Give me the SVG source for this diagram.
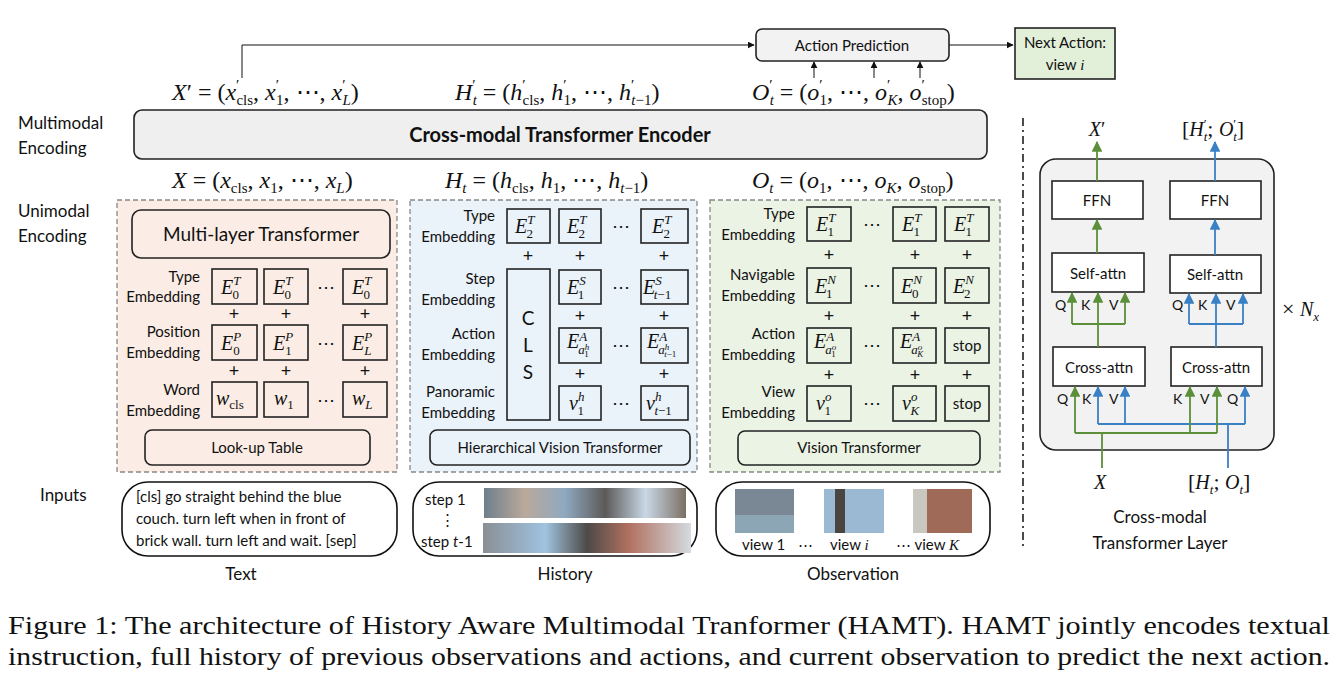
<svg xmlns="http://www.w3.org/2000/svg" width="1342" height="688" viewBox="0 0 1342 688">
<defs>
<marker id="ak" viewBox="0 0 10 10" refX="9" refY="5" markerWidth="7" markerHeight="7" orient="auto"><path d="M0,0L10,5L0,10z" fill="#111"/></marker>
<marker id="ag" viewBox="0 0 10 10" refX="9" refY="5" markerWidth="6" markerHeight="6" orient="auto"><path d="M0,0L10,5L0,10z" fill="#5b8f3a"/></marker>
<marker id="ab" viewBox="0 0 10 10" refX="9" refY="5" markerWidth="6" markerHeight="6" orient="auto"><path d="M0,0L10,5L0,10z" fill="#3a80c4"/></marker>
<linearGradient id="ph" x1="0" x2="1"><stop offset="0" stop-color="#6e7f8c"/><stop offset="0.2" stop-color="#b9a99a"/><stop offset="0.4" stop-color="#8fa9c0"/><stop offset="0.6" stop-color="#5c5a58"/><stop offset="0.8" stop-color="#c9d8e6"/><stop offset="1" stop-color="#7b6f64"/></linearGradient>
<linearGradient id="ph2" x1="0" x2="1"><stop offset="0" stop-color="#8a8f95"/><stop offset="0.3" stop-color="#9fc3e0"/><stop offset="0.5" stop-color="#4d4a47"/><stop offset="0.7" stop-color="#b07060"/><stop offset="1" stop-color="#d5dbe0"/></linearGradient>
</defs>
<style>
text{font-family:Lato,"Open Sans","Liberation Sans",sans-serif;fill:#111}
.l{font-size:15px}
.lr{font-size:15px;text-anchor:end}
.c{text-anchor:middle}
.m{font-family:"Liberation Serif",serif;font-style:italic;font-size:20px}
.mn{font-family:"Liberation Serif",serif;font-size:22px}
.f .mn{font-size:24px}
.f .m{font-size:24px}
.s{font-size:13px}
.f .s{font-size:15px}
.t{font-size:9px}
.b{fill:none;stroke:#222;stroke-width:1.6}
.rb{stroke:#222;stroke-width:1.6}
.pl{font-size:18px;text-anchor:middle}
.g{stroke:#5b8f3a;stroke-width:1.8;fill:none}
.bl{stroke:#3a80c4;stroke-width:1.8;fill:none}
.cap{font-family:"Liberation Serif",serif;font-size:26px}
</style>
<rect width="1342" height="688" fill="#fff"/>

<g id="connectors">
<path d="M242,78V45H754" stroke="#111" stroke-width="1" fill="none" marker-end="url(#ak)"/>
<path d="M949,45H1013" stroke="#111" stroke-width="1" fill="none" marker-end="url(#ak)"/>
<path d="M814,78V62" stroke="#111" stroke-width="1" marker-end="url(#ak)"/>
<path d="M874,78V62" stroke="#111" stroke-width="1" marker-end="url(#ak)"/>
<path d="M920,78V62" stroke="#111" stroke-width="1" marker-end="url(#ak)"/>
</g>

<g id="action-prediction"><rect x="756" y="29" width="193" height="32" rx="6" fill="#f2f2f2" class="rb"/><text class="l c" x="852" y="51">Action Prediction</text></g>
<g id="next-action"><rect x="1015" y="28" width="100" height="51" fill="#e2efd9" class="rb"/><text class="l c" x="1065" y="48">Next Action:</text><text class="l c" x="1065" y="70">view <tspan font-style="italic" font-family="Liberation Serif">i</tspan></text></g>

<g id="formulas" class="f">
<text class="mn" x="172" y="100"><tspan class="m">X</tspan>′ = (<tspan class="m">x</tspan><tspan class="s" dy="-10">′</tspan><tspan class="s" dx="-3" dy="15">cls</tspan><tspan dy="-5">, </tspan><tspan class="m">x</tspan><tspan class="s" dy="-10">′</tspan><tspan class="s" dx="-3" dy="15">1</tspan><tspan dy="-5">, ⋯, </tspan><tspan class="m">x</tspan><tspan class="s" dy="-10">′</tspan><tspan class="s" font-style="italic" dx="-3" dy="15">L</tspan><tspan dy="-5">)</tspan></text>
<text class="mn" x="455" y="100"><tspan class="m">H</tspan><tspan class="s" dy="-10">′</tspan><tspan class="s" font-style="italic" dx="-3" dy="15">t</tspan><tspan dy="-5"> = (</tspan><tspan class="m">h</tspan><tspan class="s" dy="-10">′</tspan><tspan class="s" dx="-3" dy="15">cls</tspan><tspan dy="-5">, </tspan><tspan class="m">h</tspan><tspan class="s" dy="-10">′</tspan><tspan class="s" dx="-3" dy="15">1</tspan><tspan dy="-5">, ⋯, </tspan><tspan class="m">h</tspan><tspan class="s" dy="-10">′</tspan><tspan class="s" dx="-3" dy="15"><tspan font-style="italic">t</tspan>−1</tspan><tspan dy="-5">)</tspan></text>
<text class="mn" x="752" y="100"><tspan class="m">O</tspan><tspan class="s" dy="-10">′</tspan><tspan class="s" font-style="italic" dx="-3" dy="15">t</tspan><tspan dy="-5"> = (</tspan><tspan class="m">o</tspan><tspan class="s" dy="-10">′</tspan><tspan class="s" dx="-3" dy="15">1</tspan><tspan dy="-5">, ⋯, </tspan><tspan class="m">o</tspan><tspan class="s" dy="-10">′</tspan><tspan class="s" font-style="italic" dx="-3" dy="15">K</tspan><tspan dy="-5">, </tspan><tspan class="m">o</tspan><tspan class="s" dy="-10">′</tspan><tspan class="s" dx="-3" dy="15">stop</tspan><tspan dy="-5">)</tspan></text>
<text class="mn" x="172" y="188"><tspan class="m">X</tspan> = (<tspan class="m">x</tspan><tspan class="s" dy="5">cls</tspan><tspan dy="-5">, </tspan><tspan class="m">x</tspan><tspan class="s" dy="5">1</tspan><tspan dy="-5">, ⋯, </tspan><tspan class="m">x</tspan><tspan class="s" font-style="italic" dy="5">L</tspan><tspan dy="-5">)</tspan></text>
<text class="mn" x="445" y="188"><tspan class="m">H</tspan><tspan class="s" font-style="italic" dy="5">t</tspan><tspan dy="-5"> = (</tspan><tspan class="m">h</tspan><tspan class="s" dy="5">cls</tspan><tspan dy="-5">, </tspan><tspan class="m">h</tspan><tspan class="s" dy="5">1</tspan><tspan dy="-5">, ⋯, </tspan><tspan class="m">h</tspan><tspan class="s" dy="5"><tspan font-style="italic">t</tspan>−1</tspan><tspan dy="-5">)</tspan></text>
<text class="mn" x="752" y="188"><tspan class="m">O</tspan><tspan class="s" font-style="italic" dy="5">t</tspan><tspan dy="-5"> = (</tspan><tspan class="m">o</tspan><tspan class="s" dy="5">1</tspan><tspan dy="-5">, ⋯, </tspan><tspan class="m">o</tspan><tspan class="s" font-style="italic" dy="5">K</tspan><tspan dy="-5">, </tspan><tspan class="m">o</tspan><tspan class="s" dy="5">stop</tspan><tspan dy="-5">)</tspan></text>
</g>

<g id="side-labels">
<text x="18" y="129" font-size="17">Multimodal</text><text x="18" y="154" font-size="17">Encoding</text>
<text x="18" y="217" font-size="17">Unimodal</text><text x="18" y="242" font-size="17">Encoding</text>
<text x="40" y="501" font-size="17">Inputs</text>
</g>

<g id="encoder"><rect x="134" y="110" width="853" height="49" rx="8" fill="#efefef" class="rb"/><text class="c" x="560" y="142" font-size="20" font-weight="bold">Cross-modal Transformer Encoder</text></g>

<g id="text-panel">
<rect x="117" y="200" width="280" height="272" fill="#fbede5" stroke="#888" stroke-width="1.3" stroke-dasharray="5,3"/>
<rect x="132" y="210" width="258" height="48" rx="9" fill="#fbede5" class="rb"/><text class="c" x="261" y="241" font-size="19">Multi-layer Transformer</text>
<text class="lr" x="200" y="282">Type</text><text class="lr" x="200" y="302">Embedding</text>
<text class="lr" x="200" y="337">Position</text><text class="lr" x="200" y="358">Embedding</text>
<text class="lr" x="200" y="395">Word</text><text class="lr" x="200" y="416">Embedding</text>
<rect class="b" x="212" y="269" width="45" height="35"/><rect class="b" x="264" y="269" width="44" height="35"/><rect class="b" x="343" y="269" width="44" height="35"/>
<rect class="b" x="212" y="325" width="45" height="35"/><rect class="b" x="264" y="325" width="44" height="35"/><rect class="b" x="343" y="325" width="44" height="35"/>
<rect class="b" x="212" y="382" width="45" height="35"/><rect class="b" x="264" y="382" width="44" height="35"/><rect class="b" x="343" y="382" width="44" height="35"/>
<text class="m" x="221" y="294">E<tspan class="s" dy="-9">T</tspan><tspan class="s" font-style="normal" dx="-8" dy="14">0</tspan></text>
<text class="m" x="273" y="294">E<tspan class="s" dy="-9">T</tspan><tspan class="s" font-style="normal" dx="-8" dy="14">0</tspan></text>
<text class="m" x="352" y="294">E<tspan class="s" dy="-9">T</tspan><tspan class="s" font-style="normal" dx="-8" dy="14">0</tspan></text>
<text class="m" x="221" y="350">E<tspan class="s" dy="-9">P</tspan><tspan class="s" font-style="normal" dx="-8" dy="14">0</tspan></text>
<text class="m" x="273" y="350">E<tspan class="s" dy="-9">P</tspan><tspan class="s" font-style="normal" dx="-8" dy="14">1</tspan></text>
<text class="m" x="352" y="350">E<tspan class="s" dy="-9">P</tspan><tspan class="s" dx="-8" dy="14">L</tspan></text>
<text class="m" x="216" y="405">w<tspan class="s" font-style="normal" dy="4">cls</tspan></text>
<text class="m" x="274" y="405">w<tspan class="s" font-style="normal" dy="4">1</tspan></text>
<text class="m" x="352" y="405">w<tspan class="s" dy="4">L</tspan></text>
<text class="pl" x="234" y="320">+</text><text class="pl" x="286" y="320">+</text><text class="pl" x="365" y="320">+</text>
<text class="pl" x="234" y="377">+</text><text class="pl" x="286" y="377">+</text><text class="pl" x="365" y="377">+</text>
<text class="pl" x="326" y="293">⋯</text><text class="pl" x="326" y="349">⋯</text><text class="pl" x="326" y="406">⋯</text>
<rect x="145" y="430" width="225" height="35" rx="7" fill="#fbede5" class="rb"/><text class="l c" x="257" y="453">Look-up Table</text>
</g>

<g id="history-panel">
<rect x="410" y="200" width="287" height="272" fill="#eaf2fa" stroke="#888" stroke-width="1.3" stroke-dasharray="5,3"/>
<text class="lr" x="495" y="221">Type</text><text class="lr" x="495" y="242">Embedding</text>
<text class="lr" x="495" y="284">Step</text><text class="lr" x="495" y="305">Embedding</text>
<text class="lr" x="495" y="339">Action</text><text class="lr" x="495" y="360">Embedding</text>
<text class="lr" x="495" y="397">Panoramic</text><text class="lr" x="495" y="418">Embedding</text>
<rect class="b" x="507" y="209" width="43" height="34"/><rect class="b" x="559" y="209" width="42" height="34"/><rect class="b" x="641" y="209" width="47" height="34"/>
<rect class="b" x="507" y="269" width="43" height="151"/>
<text class="c" x="528" y="325" font-size="19">C</text><text class="c" x="528" y="352" font-size="19">L</text><text class="c" x="528" y="379" font-size="19">S</text>
<rect class="b" x="559" y="270" width="42" height="34"/><rect class="b" x="641" y="270" width="47" height="34"/>
<rect class="b" x="559" y="328" width="42" height="35"/><rect class="b" x="641" y="328" width="47" height="35"/>
<rect class="b" x="559" y="386" width="42" height="34"/><rect class="b" x="641" y="386" width="47" height="34"/>
<text class="m" x="515" y="233">E<tspan class="s" dy="-9">T</tspan><tspan class="s" font-style="normal" dx="-8" dy="14">2</tspan></text>
<text class="m" x="567" y="233">E<tspan class="s" dy="-9">T</tspan><tspan class="s" font-style="normal" dx="-8" dy="14">2</tspan></text>
<text class="m" x="652" y="233">E<tspan class="s" dy="-9">T</tspan><tspan class="s" font-style="normal" dx="-8" dy="14">2</tspan></text>
<text class="m" x="567" y="294">E<tspan class="s" dy="-9">S</tspan><tspan class="s" font-style="normal" dx="-8" dy="14">1</tspan></text>
<text class="m" x="643" y="294">E<tspan class="s" dy="-9">S</tspan><tspan class="s" dx="-8" dy="14">t</tspan><tspan class="s" font-style="normal">−1</tspan></text>
<text class="m" x="567" y="348">E<tspan class="s" dy="-7">A</tspan><tspan class="s" dx="-9" dy="13">a</tspan><tspan class="t" dy="-4">h</tspan><tspan class="t" font-style="normal" dx="-5" dy="7">1</tspan></text>
<text class="m" x="647" y="348">E<tspan class="s" dy="-7">A</tspan><tspan class="s" dx="-9" dy="13">a</tspan><tspan class="t" dy="-4">h</tspan><tspan class="t" dx="-5" dy="7">t</tspan><tspan class="t" font-style="normal">−1</tspan></text>
<text class="m" x="569" y="410">v<tspan class="s" dy="-9">h</tspan><tspan class="s" font-style="normal" dx="-7" dy="14">1</tspan></text>
<text class="m" x="646" y="410">v<tspan class="s" dy="-9">h</tspan><tspan class="s" dx="-7" dy="14">t</tspan><tspan class="s" font-style="normal">−1</tspan></text>
<text class="pl" x="528" y="262">+</text><text class="pl" x="580" y="262">+</text><text class="pl" x="664" y="262">+</text>
<text class="pl" x="580" y="322">+</text><text class="pl" x="664" y="322">+</text>
<text class="pl" x="580" y="380">+</text><text class="pl" x="664" y="380">+</text>
<text class="pl" x="621" y="232">⋯</text><text class="pl" x="621" y="293">⋯</text><text class="pl" x="621" y="351">⋯</text><text class="pl" x="621" y="409">⋯</text>
<rect x="430" y="430" width="260" height="35" rx="7" fill="#eaf2fa" class="rb"/><text class="l c" x="560" y="453">Hierarchical Vision Transformer</text>
</g>

<g id="observation-panel">
<rect x="710" y="200" width="290" height="272" fill="#ebf3e5" stroke="#888" stroke-width="1.3" stroke-dasharray="5,3"/>
<text class="lr" x="795" y="219">Type</text><text class="lr" x="795" y="240">Embedding</text>
<text class="lr" x="795" y="280">Navigable</text><text class="lr" x="795" y="301">Embedding</text>
<text class="lr" x="795" y="339">Action</text><text class="lr" x="795" y="360">Embedding</text>
<text class="lr" x="795" y="397">View</text><text class="lr" x="795" y="418">Embedding</text>
<rect class="b" x="807" y="207" width="44" height="34"/><rect class="b" x="893" y="207" width="43" height="34"/><rect class="b" x="945" y="207" width="44" height="34"/>
<rect class="b" x="807" y="268" width="44" height="35"/><rect class="b" x="893" y="268" width="43" height="35"/><rect class="b" x="945" y="268" width="44" height="35"/>
<rect class="b" x="807" y="328" width="44" height="35"/><rect class="b" x="893" y="328" width="43" height="35"/><rect class="b" x="945" y="328" width="44" height="35"/>
<rect class="b" x="807" y="386" width="44" height="35"/><rect class="b" x="893" y="386" width="43" height="35"/><rect class="b" x="945" y="386" width="44" height="35"/>
<text class="m" x="816" y="231">E<tspan class="s" dy="-9">T</tspan><tspan class="s" font-style="normal" dx="-8" dy="14">1</tspan></text>
<text class="m" x="902" y="231">E<tspan class="s" dy="-9">T</tspan><tspan class="s" font-style="normal" dx="-8" dy="14">1</tspan></text>
<text class="m" x="954" y="231">E<tspan class="s" dy="-9">T</tspan><tspan class="s" font-style="normal" dx="-8" dy="14">1</tspan></text>
<text class="m" x="815" y="293">E<tspan class="s" dy="-9">N</tspan><tspan class="s" font-style="normal" dx="-10" dy="14">1</tspan></text>
<text class="m" x="901" y="293">E<tspan class="s" dy="-9">N</tspan><tspan class="s" font-style="normal" dx="-10" dy="14">0</tspan></text>
<text class="m" x="953" y="293">E<tspan class="s" dy="-9">N</tspan><tspan class="s" font-style="normal" dx="-10" dy="14">2</tspan></text>
<text class="m" x="814" y="348">E<tspan class="s" dy="-7">A</tspan><tspan class="s" dx="-9" dy="13">a</tspan><tspan class="t" dy="-4">o</tspan><tspan class="t" font-style="normal" dx="-5" dy="7">1</tspan></text>
<text class="m" x="900" y="348">E<tspan class="s" dy="-7">A</tspan><tspan class="s" dx="-9" dy="13">a</tspan><tspan class="t" dy="-4">o</tspan><tspan class="t" dx="-5" dy="7">K</tspan></text>
<text class="l c" x="967" y="351" font-size="16">stop</text>
<text class="m" x="816" y="410">v<tspan class="s" dy="-9">o</tspan><tspan class="s" font-style="normal" dx="-7" dy="14">1</tspan></text>
<text class="m" x="902" y="410">v<tspan class="s" dy="-9">o</tspan><tspan class="s" dx="-7" dy="14">K</tspan></text>
<text class="l c" x="967" y="409" font-size="16">stop</text>
<text class="pl" x="829" y="261">+</text><text class="pl" x="915" y="261">+</text><text class="pl" x="967" y="261">+</text>
<text class="pl" x="829" y="322">+</text><text class="pl" x="915" y="322">+</text><text class="pl" x="967" y="322">+</text>
<text class="pl" x="829" y="381">+</text><text class="pl" x="915" y="381">+</text><text class="pl" x="967" y="381">+</text>
<text class="pl" x="872" y="230">⋯</text><text class="pl" x="872" y="291">⋯</text><text class="pl" x="872" y="351">⋯</text><text class="pl" x="872" y="409">⋯</text>
<rect x="738" y="431" width="242" height="34" rx="7" fill="#ebf3e5" class="rb"/><text class="l c" x="859" y="453">Vision Transformer</text>
</g>

<g id="input-text">
<rect x="122" y="482" width="275" height="74" rx="26" fill="#fff" stroke="#111" stroke-width="1.6"/>
<text class="l" x="136" y="502" font-size="15.5">[cls] go straight behind the blue</text>
<text class="l" x="136" y="524" font-size="15.5">couch. turn left when in front of</text>
<text class="l" x="136" y="546" font-size="15.5">brick wall. turn left and wait. [sep]</text>
<text class="c" x="241" y="580" font-size="17">Text</text>
</g>
<g id="input-history">
<rect x="413" y="482" width="284" height="74" rx="26" fill="#fff" stroke="#111" stroke-width="1.6"/>
<text class="l" x="425" y="505">step 1</text>
<text class="l c" x="447" y="525">⋮</text>
<text class="l" x="421" y="547">step <tspan font-style="italic">t</tspan>-1</text>
<rect x="484" y="488" width="202" height="30" fill="url(#ph)"/>
<rect x="483" y="523" width="208" height="30" fill="url(#ph2)"/>
<text class="c" x="565" y="580" font-size="17">History</text>
</g>
<g id="input-observation">
<rect x="716" y="482" width="274" height="74" rx="26" fill="#fff" stroke="#111" stroke-width="1.6"/>
<rect x="735" y="489" width="59" height="44" fill="#7a8794"/><rect x="735" y="515" width="59" height="18" fill="#8ca6b5"/>
<rect x="824" y="489" width="60" height="44" fill="#9cb9d4"/><rect x="835" y="489" width="10" height="44" fill="#4a4540"/>
<rect x="913" y="489" width="59" height="44" fill="#a06a58"/><rect x="913" y="489" width="14" height="44" fill="#c8c8c0"/>
<text class="l" x="742" y="550" font-size="16">view 1</text><text class="l" x="798" y="550">⋯</text>
<text class="l" x="830" y="550" font-size="16">view <tspan font-family="Liberation Serif" font-style="italic">i</tspan></text>
<text class="l" x="896" y="550" font-size="16">⋯ view <tspan font-family="Liberation Serif" font-style="italic">K</tspan></text>
<text class="c" x="853" y="580" font-size="17">Observation</text>
</g>

<line x1="1023" y1="118" x2="1023" y2="548" stroke="#111" stroke-width="1.5" stroke-dasharray="8,4,2,4"/>
<g id="layer">
<rect x="1040" y="159" width="234" height="291" rx="16" fill="#f2f2f2" stroke="#222" stroke-width="1.6"/>
<rect x="1052" y="181" width="91" height="38" fill="#fff" class="rb"/><text class="l c" x="1097" y="206" font-size="16">FFN</text>
<rect x="1170" y="181" width="91" height="38" fill="#fff" class="rb"/><text class="l c" x="1215" y="206" font-size="16">FFN</text>
<rect x="1052" y="253" width="92" height="39" fill="#fff" class="rb"/><text class="l c" x="1098" y="279" font-size="16">Self-attn</text>
<rect x="1170" y="255" width="91" height="38" fill="#fff" class="rb"/><text class="l c" x="1215" y="280" font-size="16">Self-attn</text>
<rect x="1053" y="347" width="92" height="39" fill="#fff" class="rb"/><text class="l c" x="1099" y="373" font-size="16">Cross-attn</text>
<rect x="1171" y="347" width="91" height="39" fill="#fff" class="rb"/><text class="l c" x="1216" y="373" font-size="16">Cross-attn</text>
<g class="l">
<text x="1055" y="310" font-size="14">Q</text><text x="1081" y="310" font-size="14">K</text><text x="1109" y="310" font-size="14">V</text>
<text x="1172" y="310" font-size="14">Q</text><text x="1198" y="310" font-size="14">K</text><text x="1226" y="310" font-size="14">V</text>
<text x="1057" y="404" font-size="14">Q</text><text x="1082" y="404" font-size="14">K</text><text x="1109" y="404" font-size="14">V</text>
<text x="1173" y="404" font-size="14">K</text><text x="1200" y="404" font-size="14">V</text><text x="1227" y="404" font-size="14">Q</text>
</g>
<text class="mn" x="1282" y="316" font-size="18">× <tspan class="m" font-size="18">N</tspan><tspan class="s m" font-size="13" dy="5">x</tspan></text>
<text class="m c" x="1097" y="136">X<tspan font-style="normal">′</tspan></text>
<text class="mn" x="1182" y="136" font-size="20">[<tspan class="m">H</tspan><tspan class="s" dy="-8">′</tspan><tspan class="s m" font-size="13" dx="-3" dy="13">t</tspan><tspan dy="-5">; </tspan><tspan class="m">O</tspan><tspan class="s" dy="-8">′</tspan><tspan class="s m" font-size="13" dx="-3" dy="13">t</tspan><tspan dy="-5">]</tspan></text>
<text class="m c" x="1100" y="489">X</text>
<text class="mn" x="1188" y="489" font-size="20">[<tspan class="m">H</tspan><tspan class="s m" font-size="13" dy="5">t</tspan><tspan dy="-5">; </tspan><tspan class="m">O</tspan><tspan class="s m" font-size="13" dy="5">t</tspan><tspan dy="-5">]</tspan></text>
<text class="c" x="1160" y="523" font-size="17">Cross-modal</text>
<text class="c" x="1160" y="549" font-size="17">Transformer Layer</text>
</g>
<g id="layer-connectors">
<path class="g" d="M1097,181V142" marker-end="url(#ag)"/>
<path class="bl" d="M1215,181V142" marker-end="url(#ab)"/>
<path class="g" d="M1097,253V220" marker-end="url(#ag)"/>
<path class="bl" d="M1215,255V220" marker-end="url(#ab)"/>
<path class="g" d="M1098,347V324M1072,324H1125"/>
<path class="g" d="M1072,324V293" marker-end="url(#ag)"/>
<path class="g" d="M1098,324V293" marker-end="url(#ag)"/>
<path class="g" d="M1125,324V293" marker-end="url(#ag)"/>
<path class="bl" d="M1216,347V324M1189,324H1243"/>
<path class="bl" d="M1189,324V294" marker-end="url(#ab)"/>
<path class="bl" d="M1216,324V294" marker-end="url(#ab)"/>
<path class="bl" d="M1243,324V294" marker-end="url(#ab)"/>
<path class="bl" d="M1228,468V424M1098,424H1245"/>
<path class="bl" d="M1098,424V387" marker-end="url(#ab)"/>
<path class="bl" d="M1125,424V387" marker-end="url(#ab)"/>
<path class="bl" d="M1245,424V387" marker-end="url(#ab)"/>
<path class="g" d="M1102,468V433M1075,433H1217"/>
<path class="g" d="M1075,433V387" marker-end="url(#ag)"/>
<path class="g" d="M1190,433V387" marker-end="url(#ag)"/>
<path class="g" d="M1217,433V387" marker-end="url(#ag)"/>
</g>

<g id="caption">
<text class="cap" x="8" y="634" textLength="1322" lengthAdjust="spacingAndGlyphs">Figure 1: The architecture of History Aware Multimodal Tranformer (HAMT). HAMT jointly encodes textual</text>
<text class="cap" x="8" y="665" textLength="1322" lengthAdjust="spacingAndGlyphs">instruction, full history of previous observations and actions, and current observation to predict the next action.</text>
</g>
</svg>
